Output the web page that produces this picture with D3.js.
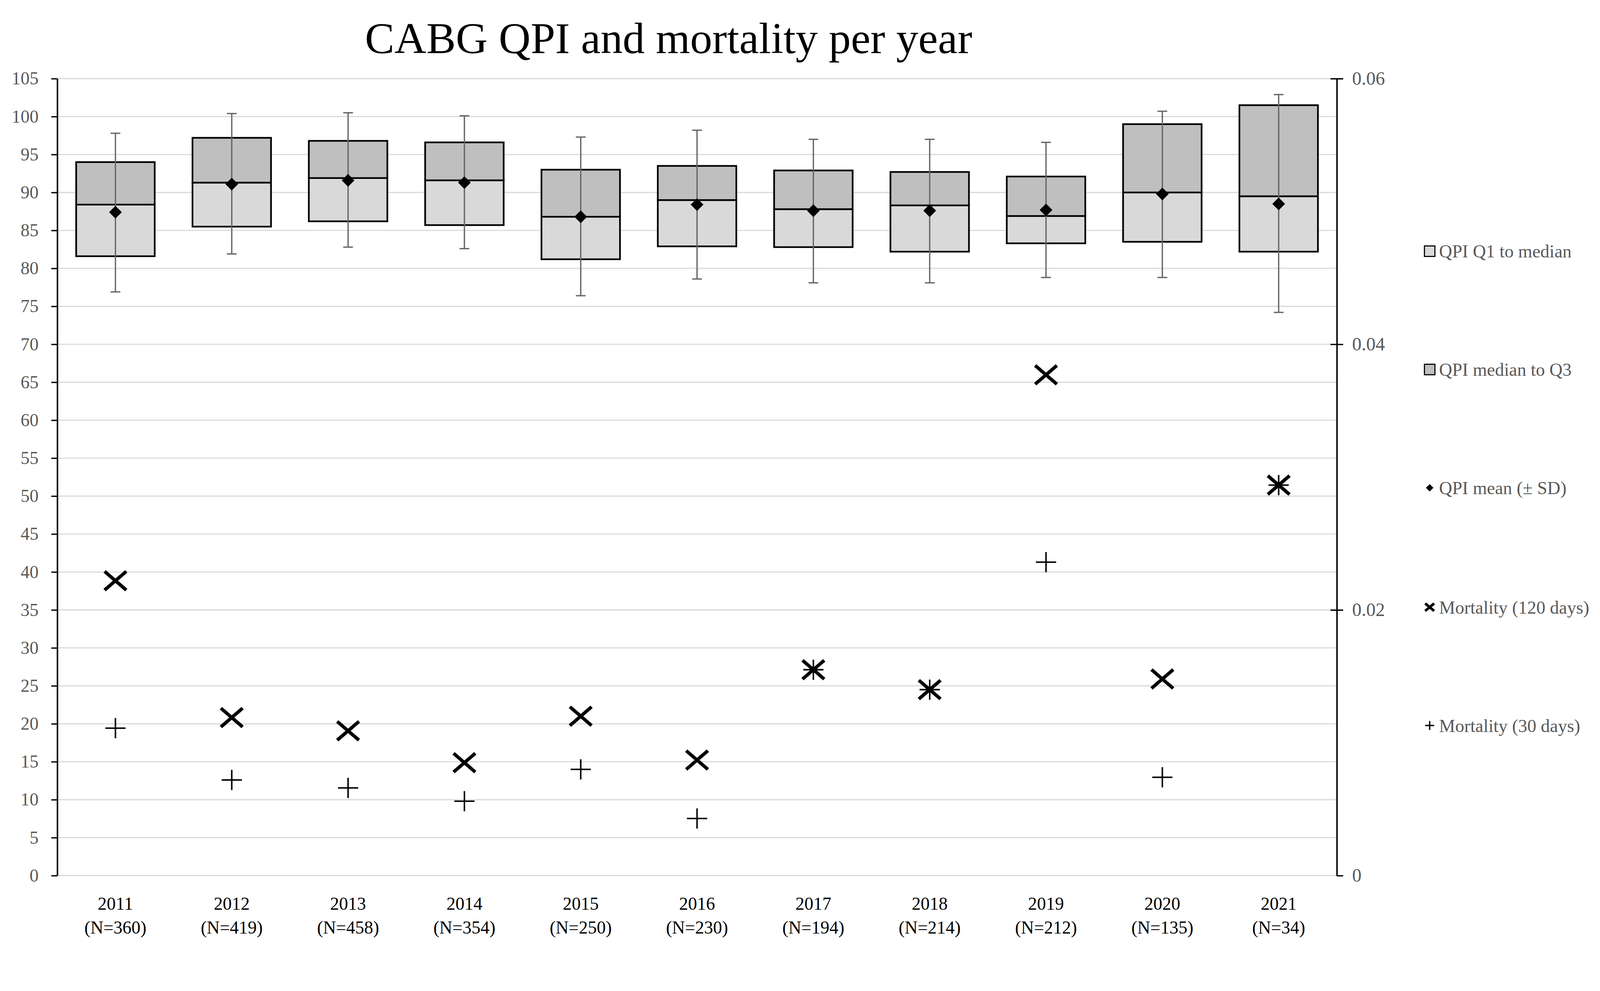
<!DOCTYPE html>
<html>
<head>
<meta charset="utf-8">
<script src="https://cdn.jsdelivr.net/npm/d3@7"></script>
<style>
  html, body { margin: 0; padding: 0; background: #ffffff; overflow: hidden; width: 100%; height: 100%; }
  svg { display: block; width: 100vw; height: 100vh; }
</style>
</head>
<body>
<svg id="chart" viewBox="0 0 4274 2537" preserveAspectRatio="xMidYMin meet"></svg>
<script>
// ---------- DATA ----------
const years   = ["2011","2012","2013","2014","2015","2016","2017","2018","2019","2020","2021"];
const nLabels = ["(N=360)","(N=419)","(N=458)","(N=354)","(N=250)","(N=230)","(N=194)","(N=214)","(N=212)","(N=135)","(N=34)"];
const qpiQ1     = [81.6, 85.5, 86.2, 85.7, 81.2, 82.9, 82.8, 82.2, 83.3, 83.5, 82.2];
const qpiMedian = [88.4, 91.3, 91.9, 91.6, 86.8, 89.0, 87.8, 88.3, 86.9, 90.0, 89.5];
const qpiQ3     = [94.0, 97.2, 96.8, 96.6, 93.0, 93.5, 92.9, 92.7, 92.1, 99.0, 101.5];
const qpiMean   = [87.4, 91.1, 91.6, 91.3, 86.8, 88.4, 87.6, 87.6, 87.7, 89.8, 88.5];
const qpiSdHigh = [97.8, 100.4, 100.5, 100.1, 97.3, 98.2, 97.0, 97.0, 96.6, 100.7, 102.9];
const qpiSdLow  = [76.9, 81.9, 82.8, 82.6, 76.4, 78.6, 78.1, 78.1, 78.8, 78.8, 74.2];
const mort120   = [0.0222, 0.0119, 0.0109, 0.0085, 0.0120, 0.0087, 0.0155, 0.0140, 0.0377, 0.0148, 0.0294];
const mort30    = [0.0111, 0.0072, 0.0066, 0.0056, 0.0080, 0.0043, 0.0155, 0.0140, 0.0236, 0.0074, 0.0294];
const leftTicks  = d3.range(0, 106, 5);
const rightTicks = [0, 0.02, 0.04, 0.06];
const legendLabels = ["QPI Q1 to median","QPI median to Q3","QPI mean (\u00B1 SD)","Mortality (120 days)","Mortality (30 days)"];
const titleText = "CABG QPI and mortality per year";

// ---------- LAYOUT ----------
const FONT = "'Liberation Serif', 'Times New Roman', serif";
const plotL = 153, plotR = 3571, plotT = 210, plotB = 2339;
const svg = d3.select("#chart");

const x = d3.scaleBand().domain(years).range([plotL, plotR]).padding(0);
const yL = d3.scaleLinear().domain([0, 105]).range([plotB, plotT]);
const yR = d3.scaleLinear().domain([0, 0.06]).range([plotB, plotT]);
const boxW = x.bandwidth() * 0.675;
const cx = d => x(d) + x.bandwidth() / 2;

// Title
svg.append("text")
  .attr("x", 1786).attr("y", 142)
  .attr("text-anchor", "middle")
  .attr("font-family", FONT).attr("font-size", 118)
  .attr("fill", "#000").text(titleText);

// Gridlines
svg.append("g").selectAll("line").data(leftTicks).join("line")
  .attr("x1", plotL).attr("x2", plotR)
  .attr("y1", d => yL(d)).attr("y2", d => yL(d))
  .attr("stroke", "#d9d9d9").attr("stroke-width", 3);

// Boxes
const boxes = svg.append("g");
years.forEach((yr, i) => {
  const left = cx(yr) - boxW / 2;
  boxes.append("rect")
    .attr("x", left).attr("width", boxW)
    .attr("y", yL(qpiMedian[i])).attr("height", yL(qpiQ1[i]) - yL(qpiMedian[i]))
    .attr("fill", "#d9d9d9").attr("stroke", "#000").attr("stroke-width", 4.5);
  boxes.append("rect")
    .attr("x", left).attr("width", boxW)
    .attr("y", yL(qpiQ3[i])).attr("height", yL(qpiMedian[i]) - yL(qpiQ3[i]))
    .attr("fill", "#bfbfbf").attr("stroke", "#000").attr("stroke-width", 4.5);
});

// Error bars
const err = svg.append("g").attr("stroke", "#666666").attr("stroke-width", 3.5);
years.forEach((yr, i) => {
  const c = cx(yr);
  err.append("line").attr("x1", c).attr("x2", c).attr("y1", yL(qpiSdHigh[i])).attr("y2", yL(qpiSdLow[i]));
  err.append("line").attr("x1", c - 13).attr("x2", c + 13).attr("y1", yL(qpiSdHigh[i])).attr("y2", yL(qpiSdHigh[i]));
  err.append("line").attr("x1", c - 13).attr("x2", c + 13).attr("y1", yL(qpiSdLow[i])).attr("y2", yL(qpiSdLow[i]));
});

// Shapes
const diamond = (h) => `M0,${-h}L${h},0L0,${h}L${-h},0Z`;
const cross = (w, h) => `M${-w},${-h}L${w},${h}M${-w},${h}L${w},${-h}`;
const plus = (s) => `M${-s},0L${s},0M0,${-s}L0,${s}`;

// Means
svg.append("g").selectAll("path").data(years).join("path")
  .attr("transform", (d, i) => `translate(${cx(d)},${yL(qpiMean[i])})`)
  .attr("d", diamond(17)).attr("fill", "#000");

// Mortality 120 days
svg.append("g").selectAll("path").data(years).join("path")
  .attr("transform", (d, i) => `translate(${cx(d)},${yR(mort120[i])})`)
  .attr("d", cross(29, 25)).attr("fill", "none").attr("stroke", "#000").attr("stroke-width", 9);

// Mortality 30 days
svg.append("g").selectAll("path").data(years).join("path")
  .attr("transform", (d, i) => `translate(${cx(d)},${yR(mort30[i])})`)
  .attr("d", plus(27)).attr("fill", "none").attr("stroke", "#000").attr("stroke-width", 4);

// Left axis
const gL = svg.append("g").attr("transform", `translate(${plotL},0)`)
  .call(d3.axisLeft(yL).tickValues(leftTicks).tickSize(16).tickPadding(34).tickSizeOuter(0));
gL.select(".domain").attr("stroke", "#000").attr("stroke-width", 4);
gL.selectAll(".tick line").attr("stroke", "#000").attr("stroke-width", 3.5);
gL.selectAll(".tick text").attr("font-family", FONT).attr("font-size", 48).attr("fill", "#595959");

// Right axis
const gR = svg.append("g").attr("transform", `translate(${plotR},0)`)
  .call(d3.axisRight(yR).tickValues(rightTicks).tickSize(17).tickPadding(24).tickSizeOuter(0)
    .tickFormat(d => d === 0 ? "0" : d3.format(".2f")(d)));
gR.select(".domain").attr("stroke", "#000").attr("stroke-width", 4);
gR.selectAll(".tick line").attr("stroke", "#000").attr("stroke-width", 3.5)
  .attr("x1", d => d === 0 ? 0 : -17);
gR.selectAll(".tick text").attr("font-family", FONT).attr("font-size", 50).attr("fill", "#595959");

// X labels
const xl = svg.append("g").attr("font-family", FONT).attr("font-size", 48).attr("fill", "#000").attr("text-anchor", "middle");
years.forEach((yr, i) => {
  xl.append("text").attr("x", cx(yr)).attr("y", 2430).text(yr);
  xl.append("text").attr("x", cx(yr)).attr("y", 2494).text(nLabels[i]);
});

// Legend
const legY = [671, 987, 1303, 1622, 1938];
const legX = 3819;
const leg = svg.append("g");
legendLabels.forEach((lab, i) => {
  const g = leg.append("g").attr("transform", `translate(${legX},${legY[i]})`);
  if (i === 0 || i === 1) {
    g.append("rect").attr("x", -14).attr("y", -14).attr("width", 28).attr("height", 28)
      .attr("fill", i === 0 ? "#d9d9d9" : "#bfbfbf").attr("stroke", "#000").attr("stroke-width", 3);
  } else if (i === 2) {
    g.append("path").attr("d", diamond(10)).attr("fill", "#000");
  } else if (i === 3) {
    g.append("path").attr("d", cross(12, 10)).attr("stroke", "#000").attr("stroke-width", 7).attr("fill", "none");
  } else {
    g.append("path").attr("d", plus(12)).attr("stroke", "#000").attr("stroke-width", 3.5).attr("fill", "none");
  }
  g.append("text").attr("x", 25).attr("y", 0).attr("dy", "0.35em")
    .attr("font-family", FONT).attr("font-size", 48.5).attr("fill", "#595959").text(lab);
});
</script>
</body>
</html>
